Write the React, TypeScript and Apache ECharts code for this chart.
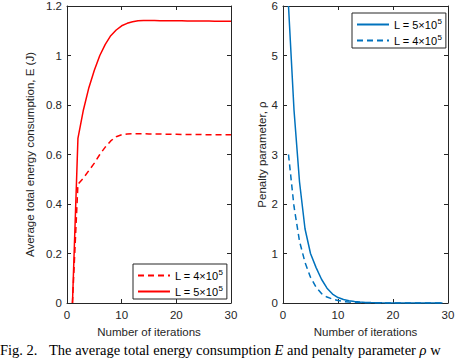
import React, { useEffect, useRef } from "react";
import * as echarts from "echarts";

const iterations = [1, 2, 3, 4, 5, 6, 7, 8, 9, 10, 11, 12, 13, 14, 15, 16, 17, 18, 19, 20, 21, 22, 23, 24, 25, 26, 27, 28, 29, 30];

const energyL5 = [0, 0.665, 0.78, 0.87, 0.94, 1.0, 1.045, 1.08, 1.103, 1.12, 1.13, 1.136, 1.14, 1.141, 1.141, 1.141, 1.14, 1.14, 1.14, 1.14, 1.14, 1.139, 1.139, 1.139, 1.139, 1.139, 1.138, 1.138, 1.138, 1.138];
const energyL4 = [0, 0.48, 0.505, 0.535, 0.565, 0.6, 0.63, 0.655, 0.672, 0.68, 0.683, 0.684, 0.684, 0.684, 0.683, 0.683, 0.683, 0.682, 0.682, 0.682, 0.681, 0.681, 0.681, 0.681, 0.68, 0.68, 0.68, 0.68, 0.68, 0.68];

const rhoL5 = [6, 3.9, 2.45, 1.5, 1.0, 0.72, 0.48, 0.3, 0.18, 0.11, 0.07, 0.045, 0.03, 0.02, 0.012, 0.008, 0.005, 0.003, 0.002, 0.001, 0.001, 0, 0, 0, 0, 0, 0, 0, 0];
const rhoL4 = [3, 1.95, 1.25, 0.82, 0.52, 0.32, 0.19, 0.12, 0.08, 0.05, 0.03, 0.02, 0.012, 0.008, 0.005, 0.003, 0.002, 0.001, 0.001, 0, 0, 0, 0, 0, 0, 0, 0, 0, 0];

const xTicks = [0, 10, 20, 30];
const energyTicks = [0, 0.2, 0.4, 0.6, 0.8, 1, 1.2];
const rhoTicks = [0, 1, 2, 3, 4, 5, 6];

const legendLabels: Record<string, string> = {
  eL4: "L = 4\u00d710{sup|5}",
  eL5: "L = 5\u00d710{sup|5}",
  rL5: "L = 5\u00d710{sup|5}",
  rL4: "L = 4\u00d710{sup|5}",
};

const FONT = "Liberation Sans, Arial, sans-serif";
const SERIF = "Liberation Serif, serif";
const AX = "#262626";
const RED = "#ff0000";
const BLUE = "#0072bd";

function pairs(vals: number[]) {
  return vals.map((v, i) => [iterations[i], v]);
}

export default function App() {
  const ref = useRef<HTMLDivElement>(null);
  useEffect(() => {
    if (!ref.current) return;
    const chart = echarts.init(ref.current, undefined, { renderer: "svg" });
    const axisLine = { show: true, onZero: false, lineStyle: { color: AX, width: 1 } };
    const tickIn = { show: true, inside: true, length: 4, lineStyle: { color: AX } };
    const labelStyle = { color: AX, fontSize: 11.5, fontFamily: FONT };
    const mkX = (gi: number) => [
      {
        type: "value", gridIndex: gi, min: 0, max: 30, interval: 10, position: "bottom",
        axisLine, axisTick: tickIn, splitLine: { show: false },
        axisLabel: { ...labelStyle, margin: 6, formatter: (v: number) => (xTicks.includes(v) ? String(v) : "") },
        name: "Number of iterations", nameLocation: "middle", nameGap: 20,
        nameTextStyle: { color: AX, fontSize: 11.5, fontFamily: FONT },
      },
      {
        type: "value", gridIndex: gi, min: 0, max: 30, interval: 10, position: "top",
        axisLine, axisTick: tickIn, axisLabel: { show: false }, splitLine: { show: false },
      },
    ];
    const mkY = (gi: number, max: number, interval: number, ticks: number[], name: string, gap: number) => [
      {
        type: "value", gridIndex: gi, min: 0, max, interval, position: "left",
        axisLine, axisTick: tickIn, splitLine: { show: false },
        axisLabel: {
          ...labelStyle, margin: 5,
          formatter: (v: number) => {
            const t = ticks.find((x) => Math.abs(x - v) < 1e-9);
            return t === undefined ? "" : String(t);
          },
        },
        name, nameLocation: "middle", nameGap: gap, nameRotate: 90,
        nameTextStyle: { color: AX, fontSize: 11.5, fontFamily: FONT },
      },
      {
        type: "value", gridIndex: gi, min: 0, max, interval, position: "right",
        axisLine, axisTick: tickIn, axisLabel: { show: false }, splitLine: { show: false },
      },
    ];
    const legendCommon = {
      orient: "vertical",
      backgroundColor: "#ffffff",
      borderColor: AX,
      borderWidth: 1,
      padding: [4, 4, 2, 4],
      itemGap: 3,
      itemWidth: 32,
      itemHeight: 10,
      itemStyle: { opacity: 0 },
      formatter: (n: string) => legendLabels[n],
      textStyle: {
        color: "#000", fontSize: 11, fontFamily: FONT,
        rich: { sup: { fontSize: 8, padding: [0, 0, 7, 0], fontFamily: FONT, color: "#000" } },
      },
    };
    chart.setOption({
      animation: false,
      grid: [
        { left: 67, top: 4, width: 164, height: 299, show: false },
        { left: 283, top: 4, width: 165, height: 299, show: false },
      ],
      xAxis: [...mkX(0), ...mkX(1)],
      yAxis: [
        ...mkY(0, 1.2, 0.2, energyTicks, "Average total energy consumption, E (J)", 31),
        ...mkY(1, 6, 1, rhoTicks, "Penalty parameter, \u03c1", 9),
      ],
      legend: [
        { ...legendCommon, left: 133, top: 264, data: ["eL4", "eL5"] },
        { ...legendCommon, left: 352, top: 13, data: ["rL5", "rL4"] },
      ],
      series: [
        { name: "eL4", type: "line", xAxisIndex: 0, yAxisIndex: 0, data: pairs(energyL4), showSymbol: false, symbol: "none", lineStyle: { color: RED, width: 1.5, type: [6, 4] }, itemStyle: { color: RED } },
        { name: "eL5", type: "line", xAxisIndex: 0, yAxisIndex: 0, data: pairs(energyL5), showSymbol: false, symbol: "none", lineStyle: { color: RED, width: 1.5 }, itemStyle: { color: RED } },
        { name: "rL5", type: "line", xAxisIndex: 2, yAxisIndex: 2, data: pairs(rhoL5), showSymbol: false, symbol: "none", lineStyle: { color: BLUE, width: 1.5 }, itemStyle: { color: BLUE } },
        { name: "rL4", type: "line", xAxisIndex: 2, yAxisIndex: 2, data: pairs(rhoL4), showSymbol: false, symbol: "none", lineStyle: { color: BLUE, width: 1.5, type: [6, 4] }, itemStyle: { color: BLUE } },
      ],
      graphic: [
        { type: "text", left: 0, top: 342, style: { text: "Fig. 2.", fontSize: 14.5, fontFamily: SERIF, fill: "#000" } },
        {
          type: "text", left: 49, top: 342,
          style: {
            text: "The average total energy consumption {i|E} and penalty parameter {i|\u03c1} w",
            fontSize: 14.5, fontFamily: SERIF, fill: "#000",
            rich: { i: { fontStyle: "italic", fontSize: 14.5, fontFamily: SERIF, fill: "#000" } },
          },
        },
      ],
    });
    return () => chart.dispose();
  }, []);
  return <div ref={ref} style={{ position: "fixed", left: 0, top: 0, width: 474, height: 358, background: "#fff" }} />;
}
